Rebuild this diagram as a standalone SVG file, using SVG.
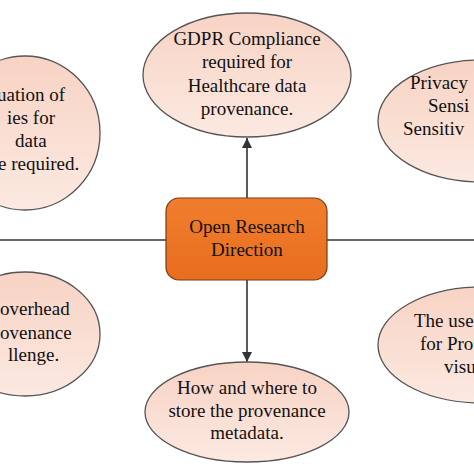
<svg xmlns="http://www.w3.org/2000/svg" width="474" height="474" viewBox="0 0 474 474">
<defs>
<linearGradient id="pink" x1="0" y1="0" x2="0" y2="1">
<stop offset="0" stop-color="#f7d3c4"/>
<stop offset="1" stop-color="#fce9e1"/>
</linearGradient>
<linearGradient id="orange" x1="0" y1="0" x2="0" y2="1">
<stop offset="0" stop-color="#f07e2e"/>
<stop offset="1" stop-color="#e86e1e"/>
</linearGradient>
<marker id="arrow" viewBox="0 0 10 10" refX="10" refY="5" markerWidth="10" markerHeight="10" markerUnits="userSpaceOnUse" orient="auto">
<path d="M0,0 L10,5 L0,10 z" fill="#333"/>
</marker>
<style>
.ell{fill:url(#pink);stroke:#555;stroke-width:1.3}
.t{font-family:"Liberation Serif","Times New Roman",serif;font-size:19px;fill:#111}
.m{text-anchor:middle}
.c{stroke:#333;stroke-width:1.6;fill:none}
</style>
</defs>
<rect width="474" height="474" fill="#fff"/>
<g id="connectors">
<line class="c" x1="0" y1="240" x2="474" y2="240"/>
<line class="c" x1="247" y1="198" x2="247" y2="138" marker-end="url(#arrow)"/>
<line class="c" x1="247" y1="280" x2="247" y2="362" marker-end="url(#arrow)"/>
</g>
<g id="node-top">
<ellipse class="ell" cx="247" cy="75" rx="104" ry="62"/>
<text class="t m" x="247" y="45">GDPR Compliance</text>
<text class="t m" x="247" y="68">required for</text>
<text class="t m" x="247" y="92">Healthcare data</text>
<text class="t m" x="247" y="115">provenance.</text>
</g>
<g id="node-top-left">
<ellipse class="ell" cx="25" cy="133" rx="75" ry="77"/>
<text class="t" x="-3" y="101">uation of</text>
<text class="t" x="7" y="124">ies for</text>
<text class="t" x="15" y="147">data</text>
<text class="t" x="-2" y="170">e required.</text>
</g>
<g id="node-top-right">
<ellipse class="ell" cx="482" cy="121" rx="104" ry="61"/>
<text class="t" x="410" y="89">Privacy</text>
<text class="t" x="428" y="112">Sensi</text>
<text class="t" x="403" y="135">Sensitiv</text>
</g>
<g id="node-center">
<rect x="166" y="198" width="161" height="82" rx="13" fill="url(#orange)" stroke="#7a3a10" stroke-width="1.2"/>
<text class="t m" x="247" y="233" fill="#2a1508">Open Research</text>
<text class="t m" x="247" y="256" fill="#2a1508">Direction</text>
</g>
<g id="node-bottom-left">
<ellipse class="ell" cx="25" cy="334" rx="75" ry="62"/>
<text class="t" x="0" y="315">overhead</text>
<text class="t" x="0" y="339">ovenance</text>
<text class="t" x="8" y="361">llenge.</text>
</g>
<g id="node-bottom">
<ellipse class="ell" cx="247" cy="412" rx="102" ry="50"/>
<text class="t m" x="247" y="394">How and where to</text>
<text class="t m" x="247" y="417">store the provenance</text>
<text class="t m" x="247" y="439">metadata.</text>
</g>
<g id="node-bottom-right">
<ellipse class="ell" cx="482" cy="345" rx="104" ry="58"/>
<text class="t" x="414" y="327">The use</text>
<text class="t" x="420" y="350">for Pro</text>
<text class="t" x="444" y="373">visu</text>
</g>
</svg>
